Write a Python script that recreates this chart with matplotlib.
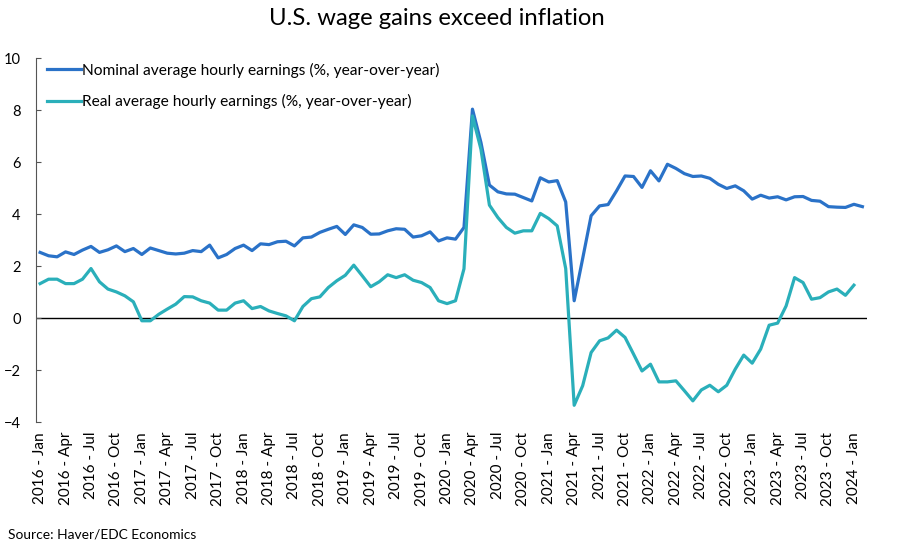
import matplotlib.pyplot as plt
import numpy as np

# monthly y/y growth, Jan 2016 onward
nominal = [
    2.53, 2.40, 2.36, 2.55, 2.45, 2.62, 2.76, 2.53, 2.63, 2.78, 2.56, 2.68,  # 2016
    2.45, 2.70, 2.60, 2.50, 2.47, 2.50, 2.60, 2.56, 2.81, 2.32, 2.45, 2.68,  # 2017
    2.81, 2.60, 2.86, 2.83, 2.94, 2.96, 2.78, 3.09, 3.12, 3.30, 3.42, 3.53,  # 2018
    3.22, 3.59, 3.49, 3.23, 3.24, 3.36, 3.44, 3.42, 3.12, 3.17, 3.32, 2.97,  # 2019
    3.09, 3.04, 3.49, 8.04, 6.76, 5.12, 4.86, 4.78, 4.77, 4.64, 4.51, 5.40,  # 2020
    5.24, 5.29, 4.47, 0.67, 2.29, 3.94, 4.32, 4.37, 4.90, 5.47, 5.45, 5.03,  # 2021
    5.67, 5.28, 5.92, 5.76, 5.56, 5.45, 5.47, 5.38, 5.15, 4.99, 5.09, 4.90,  # 2022
    4.58, 4.73, 4.62, 4.67, 4.55, 4.67, 4.68, 4.53, 4.50, 4.29, 4.27, 4.26,  # 2023
    4.38, 4.29,                                                              # 2024
]
real = [
    1.33, 1.50, 1.50, 1.33, 1.33, 1.50, 1.91, 1.40, 1.12, 1.01, 0.86, 0.63,
    -0.10, -0.10, 0.15, 0.35, 0.54, 0.83, 0.82, 0.67, 0.58, 0.31, 0.31, 0.58,
    0.67, 0.37, 0.45, 0.28, 0.18, 0.09, -0.10, 0.45, 0.75, 0.82, 1.18, 1.44,
    1.65, 2.04, 1.63, 1.21, 1.40, 1.67, 1.56, 1.67, 1.46, 1.37, 1.18, 0.67,
    0.56, 0.67, 1.90, 7.78, 6.50, 4.35, 3.87, 3.49, 3.27, 3.36, 3.36, 4.03,
    3.83, 3.55, 1.91, -3.35, -2.60, -1.32, -0.87, -0.76, -0.46, -0.74, -1.38, -2.03,
    -1.77, -2.45, -2.45, -2.41, -2.79, -3.18, -2.76, -2.58, -2.83, -2.58, -1.96, -1.42,
    -1.73, -1.19, -0.27, -0.19, 0.47, 1.56, 1.37, 0.73, 0.79, 1.01, 1.12, 0.88,
    1.27,
]

tick_labels = []
for yr in range(2016, 2025):
    for mon in ["Jan", "Apr", "Jul", "Oct"]:
        tick_labels.append(f"{yr} - {mon}")
tick_labels = tick_labels[:33]  # stops at 2024 - Jan

FONT = "Lato"
BLUE = "#2a72c8"
TEAL = "#2aafba"

fig = plt.figure(figsize=(9.2, 5.49), dpi=100)
ax = fig.add_axes([0.039, 0.231, 0.903, 0.663])

ax.plot(np.arange(len(nominal)), nominal, color=BLUE, linewidth=2.3,
        label="Nominal average hourly earnings (%, year-over-year)")
ax.plot(np.arange(len(real)), real, color=TEAL, linewidth=2.3,
        label="Real average hourly earnings (%, year-over-year)")
ax.axhline(0, color="black", linewidth=1.0, zorder=1)

ax.set_xlim(-0.5, 97.5)
ax.set_ylim(-4, 10)
ax.set_yticks(np.arange(-4, 11, 2))
ax.set_xticks(np.arange(0, 97, 3))
ax.set_xticklabels(tick_labels, rotation=90, fontsize=11, family=FONT)
for lbl in ax.get_yticklabels():
    lbl.set_family(FONT)
ax.tick_params(axis="y", direction="in", length=3.5, color="#555555",
               labelsize=10.5, pad=11)
ax.tick_params(axis="x", length=0, pad=7)

for s in ["top", "right", "bottom"]:
    ax.spines[s].set_visible(False)
ax.spines["left"].set_color("#555555")

ax.legend(loc="upper left", frameon=False, prop={"family": FONT, "size": 11.2},
          handlelength=2.2, handletextpad=0.1, labelspacing=1.07,
          bbox_to_anchor=(-0.004, 1.026))

fig.text(0.475, 0.967, "U.S. wage gains exceed inflation", ha="center", va="center",
         fontsize=17.2, family=FONT)
fig.text(0.009, 0.027, "Source: Haver/EDC Economics", ha="left", va="center",
         fontsize=9.9, family=FONT)

fig.savefig("out.png", dpi=100)
